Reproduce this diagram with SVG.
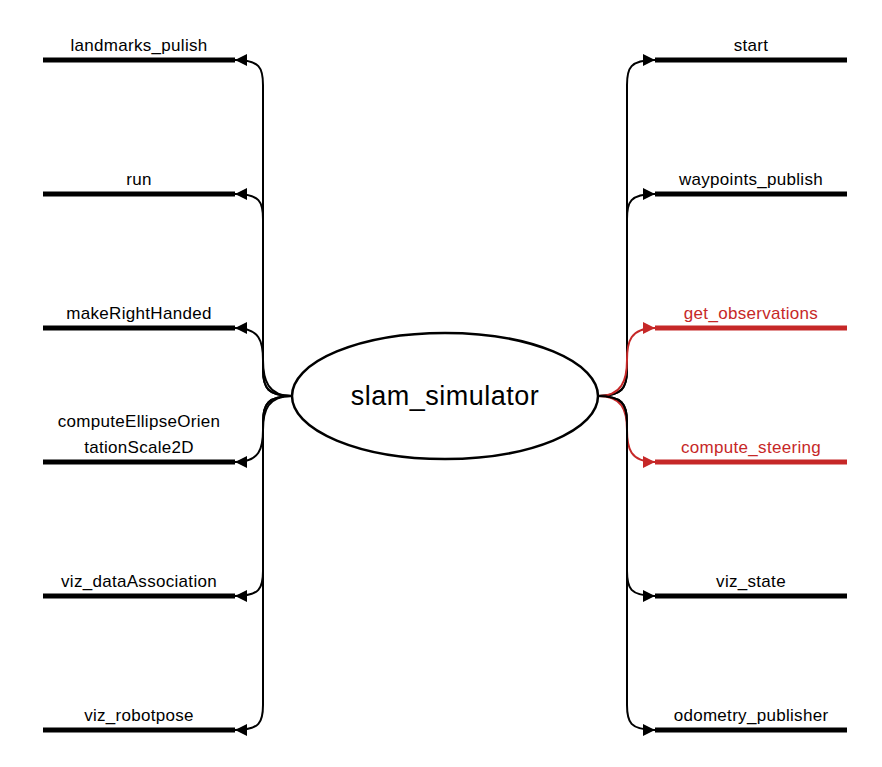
<svg xmlns="http://www.w3.org/2000/svg" width="882" height="767" viewBox="0 0 882 767">
<style>
.t{font-family:"Liberation Sans",Arial,sans-serif;font-size:17px;fill:#000;text-anchor:middle;letter-spacing:0.3px}
.r{fill:#c62828}
.bar{stroke:#000;stroke-width:5}
.barr{stroke:#c62828;stroke-width:5}
.c{fill:none;stroke:#000;stroke-width:2}
.cr{fill:none;stroke:#c62828;stroke-width:2}
</style>
<defs>
<marker id="a" viewBox="0 0 10 10" refX="10" refY="5" markerWidth="14" markerHeight="12" orient="auto" markerUnits="userSpaceOnUse"><path d="M0,0L10,5L0,10z" fill="#000"/></marker>
<marker id="ar" viewBox="0 0 10 10" refX="10" refY="5" markerWidth="14" markerHeight="12" orient="auto" markerUnits="userSpaceOnUse"><path d="M0,0L10,5L0,10z" fill="#c62828"/></marker>
</defs>
<rect width="882" height="767" fill="#fff"/>
<g id="connectors">
<path class="c" marker-end="url(#a)" d="M292,396 C268,396 263,388 263,370 L263,85 C263,68 260,60 235,60"/>
<path class="c" marker-end="url(#a)" d="M292,396 C268,396 263,388 263,370 L263,219 C263,202 260,194 235,194"/>
<path class="c" marker-end="url(#a)" d="M292,396 C268,396 263,380 263,360 C263,342 260,328 235,328"/>
<path class="c" marker-end="url(#a)" d="M292,396 C268,396 263,410 263,430 C263,448 260,462 235,462"/>
<path class="c" marker-end="url(#a)" d="M292,396 C268,396 263,404 263,422 L263,571 C263,588 260,596 235,596"/>
<path class="c" marker-end="url(#a)" d="M292,396 C268,396 263,404 263,422 L263,705 C263,722 260,730 235,730"/>
<path class="c" marker-end="url(#a)" d="M598,396 C622,396 627,388 627,370 L627,85 C627,68 630,60 655,60"/>
<path class="c" marker-end="url(#a)" d="M598,396 C622,396 627,388 627,370 L627,219 C627,202 630,194 655,194"/>
<path class="cr" marker-end="url(#ar)" d="M598,396 C622,396 627,380 627,360 C627,342 630,328 655,328"/>
<path class="cr" marker-end="url(#ar)" d="M598,396 C622,396 627,410 627,430 C627,448 630,462 655,462"/>
<path class="c" marker-end="url(#a)" d="M598,396 C622,396 627,404 627,422 L627,571 C627,588 630,596 655,596"/>
<path class="c" marker-end="url(#a)" d="M598,396 C622,396 627,404 627,422 L627,705 C627,722 630,730 655,730"/>
</g>
<g id="center"><ellipse cx="445" cy="396" rx="153" ry="63" fill="#fff" stroke="#000" stroke-width="2.5"/><text x="445" y="405" class="t" style="font-size:27px;letter-spacing:0.5px">slam_simulator</text></g>
<g id="n1"><line class="bar" x1="43" y1="60" x2="235" y2="60"/><text class="t" x="139" y="51">landmarks_pulish</text></g>
<g id="n2"><line class="bar" x1="43" y1="194" x2="235" y2="194"/><text class="t" x="139" y="185">run</text></g>
<g id="n3"><line class="bar" x1="43" y1="328" x2="235" y2="328"/><text class="t" x="139" y="319">makeRightHanded</text></g>
<g id="n4"><line class="bar" x1="43" y1="462" x2="235" y2="462"/><text class="t" x="139" y="427">computeEllipseOrien</text><text class="t" x="139" y="453">tationScale2D</text></g>
<g id="n5"><line class="bar" x1="43" y1="596" x2="235" y2="596"/><text class="t" x="139" y="587">viz_dataAssociation</text></g>
<g id="n6"><line class="bar" x1="43" y1="730" x2="235" y2="730"/><text class="t" x="139" y="721">viz_robotpose</text></g>
<g id="n7"><line class="bar" x1="655" y1="60" x2="847" y2="60"/><text class="t" x="751" y="51">start</text></g>
<g id="n8"><line class="bar" x1="655" y1="194" x2="847" y2="194"/><text class="t" x="751" y="185">waypoints_publish</text></g>
<g id="n9"><line class="barr" x1="655" y1="328" x2="847" y2="328"/><text class="t r" x="751" y="319">get_observations</text></g>
<g id="n10"><line class="barr" x1="655" y1="462" x2="847" y2="462"/><text class="t r" x="751" y="453">compute_steering</text></g>
<g id="n11"><line class="bar" x1="655" y1="596" x2="847" y2="596"/><text class="t" x="751" y="587">viz_state</text></g>
<g id="n12"><line class="bar" x1="655" y1="730" x2="847" y2="730"/><text class="t" x="751" y="721">odometry_publisher</text></g>
</svg>
